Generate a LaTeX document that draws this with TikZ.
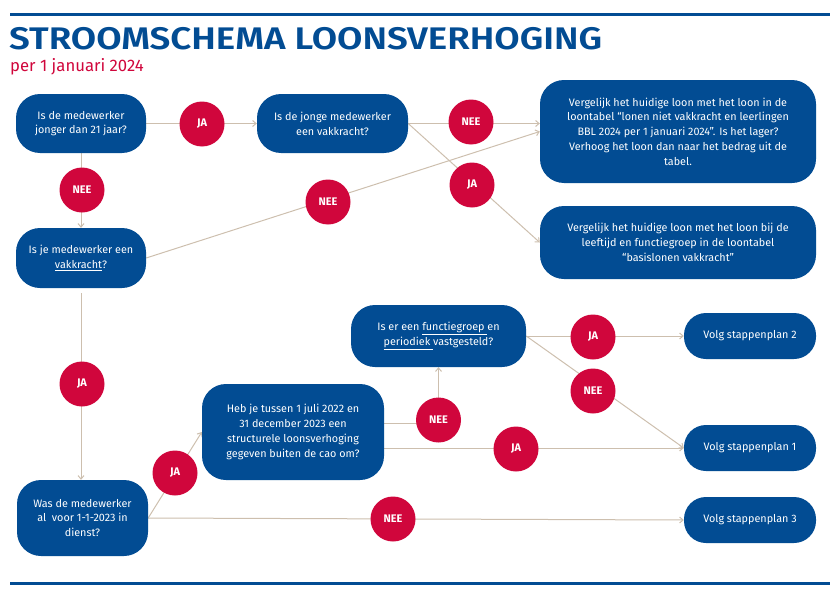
\documentclass[tikz,border=0pt]{standalone}
\usepackage{fontspec}
\setmainfont{Fira Sans}
\newfontfamily\titlefont{Fira Sans}[UprightFont=* SemiBold]
\usetikzlibrary{arrows.meta,backgrounds}
\definecolor{dblue}{HTML}{024C93}
\definecolor{dred}{HTML}{D0063C}
\definecolor{tan}{HTML}{CDBFAE}
\tikzset{
  box/.style={draw=none, fill=dblue, text=white, rectangle, rounded corners=24pt, inner sep=0pt, align=center, font=\fontsize{10.8}{14.8}\selectfont},
  pill/.style={box, rounded corners=22pt},
  dot/.style={circle, fill=dred, text=white, minimum size=45pt, inner sep=0pt, font=\fontsize{11}{12}\selectfont\bfseries},
  conn/.style={draw=tan, line width=1pt, -{Straight Barb[length=3.5pt,width=6pt]}},
  rule/.style={draw=dblue, line width=3pt}
}
\begin{document}
\begin{tikzpicture}[x=1pt,y=-1pt]
\useasboundingbox (0,0) rectangle (840,594);
% rules and title
\draw[rule] (10,15) coordinate (tl) -- (830,15) coordinate (tr);
\draw[rule] (10,583) coordinate (bl) -- (830,583) coordinate (br);
\node[anchor=base west, inner sep=0pt, text=dblue, font=\fontsize{31}{34}\selectfont\titlefont] (title) at (9,50) {\resizebox{593pt}{!}{\scalebox{1}[0.85]{STROOMSCHEMA LOONSVERHOGING}}};
\node[anchor=base west, inner sep=0pt, text=dred, font=\fontsize{16.7}{19}\selectfont] (sub) at (10,71) {per 1 januari 2024};
% boxes
\node[box, minimum width=130pt, minimum height=59pt] (n1) at (81,123.5) {Is de medewerker\\jonger dan 21 jaar?};
\node[box, minimum width=151pt, minimum height=59pt] (n2) at (332.5,123.5) {Is de jonge medewerker\\een vakkracht?};
\node[box, minimum width=276pt, minimum height=103pt] (n3) at (678,131.5) {Vergelijk het huidige loon met het loon in de\\loontabel “lonen niet vakkracht en leerlingen\\BBL 2024 per 1 januari 2024”. Is het lager?\\Verhoog het loon dan naar het bedrag uit de\\tabel.};
\node[box, minimum width=276pt, minimum height=73pt] (n4) at (678,242.5) {Vergelijk het huidige loon met het loon bij de\\leeftijd en functiegroep in de loontabel\\“basislonen vakkracht”};
\node[box, minimum width=130pt, minimum height=60pt] (n5) at (81,258) {Is je medewerker een\\\underline{vakkracht}?};
\node[box, minimum width=175pt, minimum height=62pt] (n6) at (438.5,336) {Is er een \underline{functiegroep }en\\\underline{periodiek }vastgesteld?};
\node[pill, minimum width=132pt, minimum height=46pt] (n7) at (750,336) {Volg stappenplan 2};
\node[pill, minimum width=132pt, minimum height=46pt] (n8) at (750,448) {Volg stappenplan 1};
\node[pill, minimum width=132pt, minimum height=46pt] (n9) at (750,520) {Volg stappenplan 3};
\node[box, minimum width=182pt, minimum height=96pt] (n10) at (293,432) {Heb je tussen 1 juli 2022 en\\31 december 2023 een\\structurele loonsverhoging\\gegeven buiten de cao om?};
\node[box, minimum width=131pt, minimum height=76pt] (n11) at (82.5,518) {Was de medewerker\\al\ \ voor 1-1-2023 in\\dienst?};
% circles
\node[dot] (c1) at (202,124) {JA};
\node[dot] (c2) at (471,122) {NEE};
\node[dot] (c3) at (472,185) {JA};
\node[dot] (c4) at (82,190) {NEE};
\node[dot] (c5) at (328,202) {NEE};
\node[dot] (c6) at (82,384) {JA};
\node[dot] (c7) at (175,473) {JA};
\node[dot] (c8) at (393,519) {NEE};
\node[dot] (c9) at (438.5,420) {NEE};
\node[dot] (c10) at (516,449) {JA};
\node[dot] (c11) at (593,337) {JA};
\node[dot] (c12) at (593,391) {NEE};
% connectors
\begin{scope}[on background layer]
\path[conn] (n1.east) -- (n2.west);
\path[conn] (n2.east) -- (n2.east -| n3.west);
\path[conn] (n2.east) -- (n4.west);
\path[conn] (n1.south) -- (n5.north);
\path[conn] (n5.east) -- (n3.west);
\path[conn] ([yshift=-5pt]n5.south) -- (n5.south |- n11.north);
\path[conn] (n11.east) -- (n10.west);
\path[conn] (n11.east) -- (n9.west);
\path[conn] ([yshift=9pt]n10.east) -| (n6.south);
\path[conn] ([yshift=-16pt]n10.east) -- (n8.west);
\path[conn] (n6.east) -- (n7.west);
\path[conn] (n6.east) -- (n8.west);
\end{scope}
\end{tikzpicture}
\end{document}
